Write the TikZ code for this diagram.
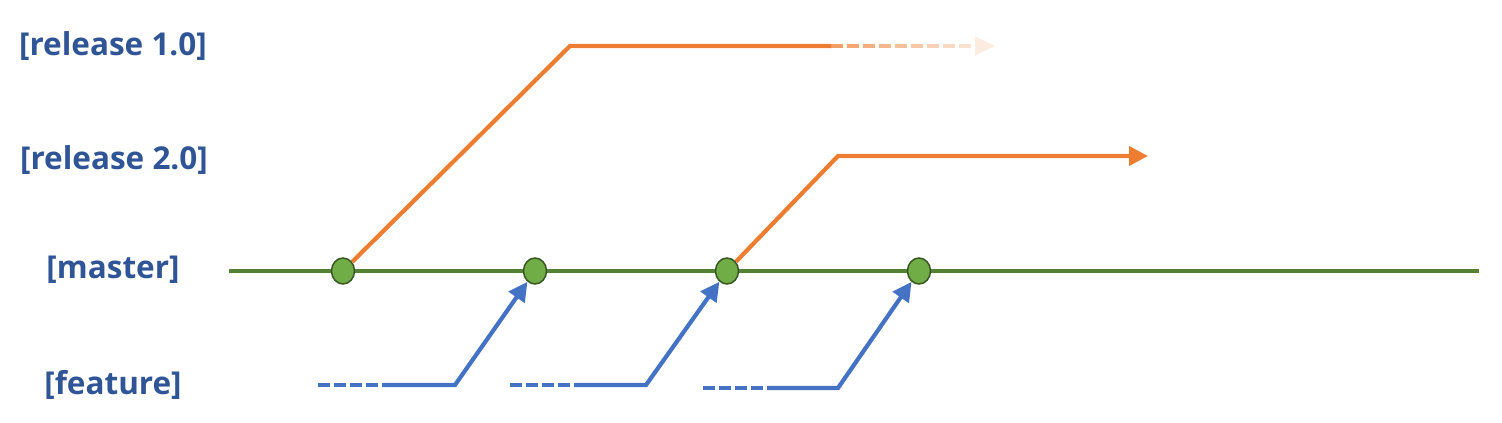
\documentclass[tikz,border=0pt]{standalone}
\usepackage{fontspec}
\setmainfont{Open Sans}
\usetikzlibrary{arrows.meta,shapes.geometric}
\definecolor{relorange}{HTML}{ED7D31}
\definecolor{masgreen}{HTML}{548235}
\definecolor{comfill}{HTML}{70AD47}
\definecolor{comdraw}{HTML}{385723}
\definecolor{featblue}{HTML}{4472C4}
\definecolor{lblblue}{HTML}{2F5597}
\begin{document}
\begin{tikzpicture}[x=1pt,y=-1pt,
    lbl/.style={text=lblblue,font=\fontsize{31.5}{36}\selectfont\bfseries},
    commit/.style={ellipse,draw=comdraw,line width=1.5pt,fill=comfill,
      minimum width=23pt,minimum height=26pt,inner sep=0pt},
    relline/.style={draw=relorange,line width=4.2pt},
    featline/.style={draw=featblue,line width=4.2pt},
    tip/.style={-{Triangle[length=19pt,width=19pt]}}]
      \useasboundingbox (0,0) rectangle (1502,423);
      % labels
      \node[lbl] (lrel1) at (113,46) {[release 1.0]};
      \node[lbl] (lrel2) at (114,160) {[release 2.0]};
      \node[lbl] (lmas) at (113,270) {[master]};
      \node[lbl] (lfeat) at (113,385) {[feature]};
      % master
      \coordinate (ms) at (229,271);
      \coordinate (me) at (1479,271);
      \draw[masgreen,line width=4.2pt] (ms) -- (me);
      % release 1.0
      \coordinate (r1a) at (570,46);
      \coordinate (r1b) at (831,46);
      \coordinate (r1e) at (975,46);
      % release 2.0
      \coordinate (r2a) at (838,156);
      \coordinate (r2e) at (1148,156);
      % feature
      \coordinate (f1s) at (318,385);
      \coordinate (f1d) at (382,385);
      \coordinate (f1k) at (455,385);
      \coordinate (f2s) at (510,385);
      \coordinate (f2d) at (574,385);
      \coordinate (f2k) at (646,385);
      \coordinate (f3s) at (703,388);
      \coordinate (f3d) at (767,388);
      \coordinate (f3k) at (838,388);
      % commits
      \node[commit] (c1) at (343,271) {};
      \node[commit] (c2) at (535,271) {};
      \node[commit] (c3) at (727,271) {};
      \node[commit] (c4) at (919,271) {};
      \draw[relline] (c1) -- (r1a) -- (r1b);
      \foreach \i in {0,...,8}
        \draw[relline,draw opacity=0.75-0.065*\i] ([xshift=16*\i pt]r1b) -- ++(12,0);
      \fill[relorange,opacity=0.15] (r1e) -- ++(0,-9.5) -- ++(20,9.5) -- ++(-20,9.5) -- cycle;
      \draw[relline,tip] (c3) -- (r2a) -- (r2e);
      \draw[featline,dash pattern=on 12pt off 4pt] (f1s) -- (f1d);
      \draw[featline,tip] (f1d) -- (f1k) -- (c2);
      \draw[featline,dash pattern=on 12pt off 4pt] (f2s) -- (f2d);
      \draw[featline,tip] (f2d) -- (f2k) -- (c3);
      \draw[featline,dash pattern=on 12pt off 4pt] (f3s) -- (f3d);
      \draw[featline,tip] (f3d) -- (f3k) -- (c4);
    \end{tikzpicture}
\end{document}
